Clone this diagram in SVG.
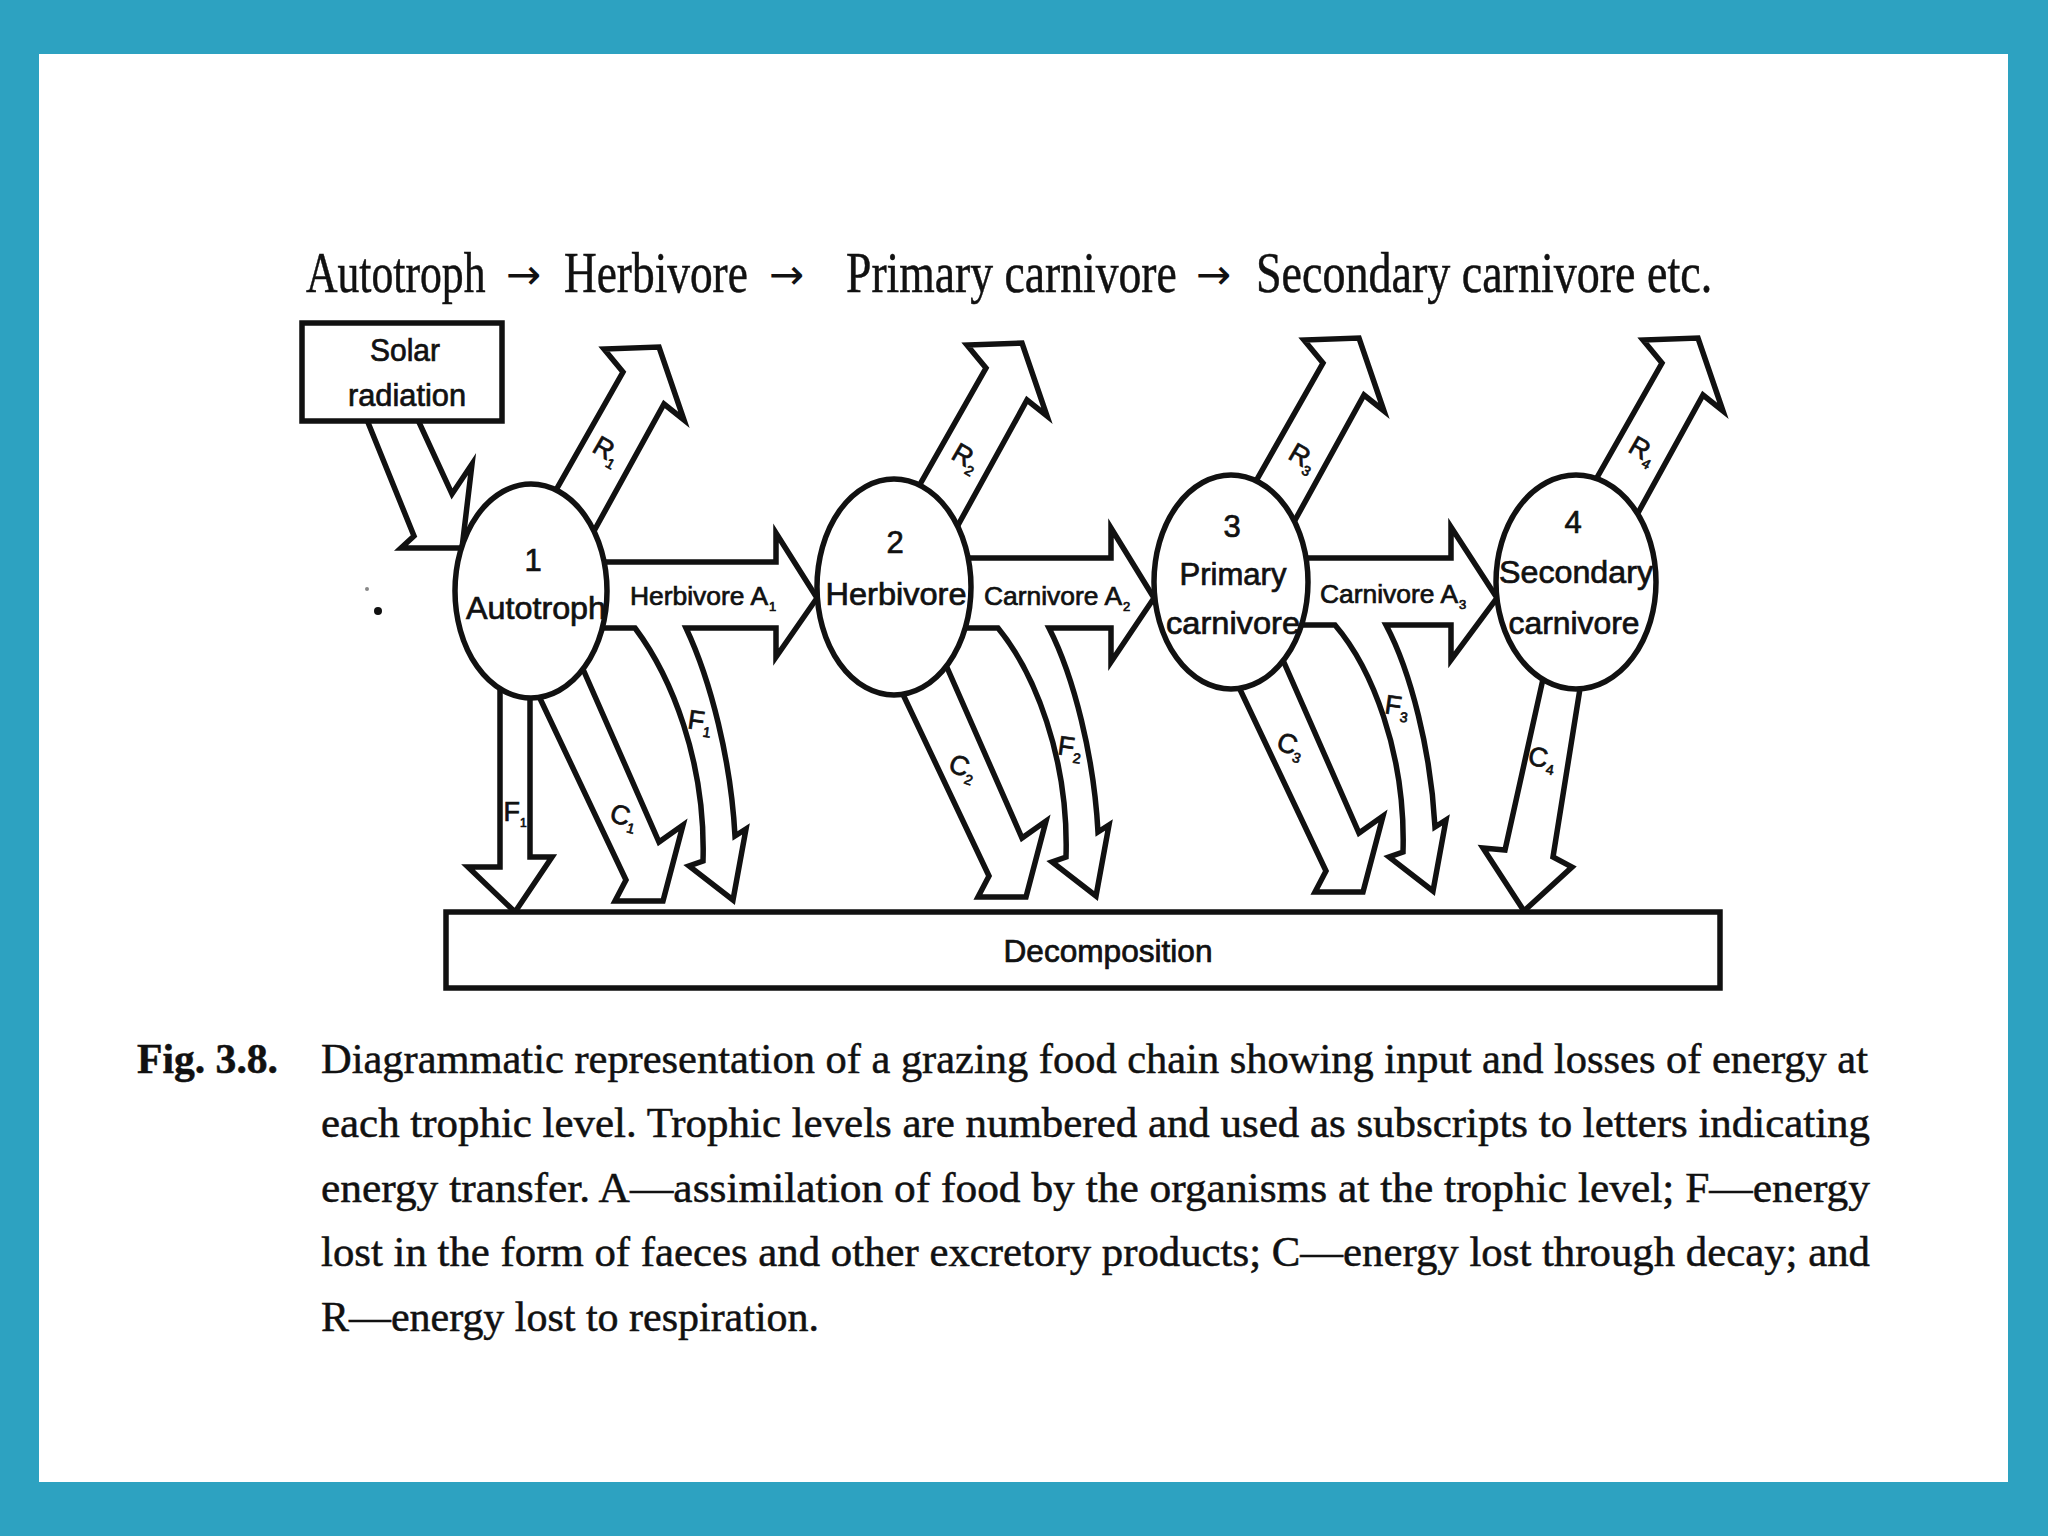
<svg xmlns="http://www.w3.org/2000/svg" width="2048" height="1536" viewBox="0 0 2048 1536">
<style>
.ln{fill:#fff;stroke:#111;stroke-width:5.5;stroke-linejoin:miter;stroke-miterlimit:5}
.nd{fill:#fff;stroke:#111;stroke-width:5.5}
.sans{font-family:"Liberation Sans",Arial,Helvetica,sans-serif;fill:#111;stroke:#111;stroke-width:0.7}
.serif{font-family:"Liberation Serif","Times New Roman",serif;fill:#111;stroke:#111;stroke-width:0.5}
.arw{font-family:"DejaVu Sans",sans-serif;fill:#111;font-size:42px}
.ttl{font-size:56px}
.cl{font-size:31px;text-anchor:middle}
.al{font-size:26px}
.lab{font-size:27px;text-anchor:middle}
.cap{font-size:42px}
</style>
<rect width="2048" height="1536" fill="#2da2c1"/>
<rect x="39" y="54" width="1969" height="1428" fill="#fff"/>

<g id="title">
<text class="serif ttl" transform="translate(306,292) scale(0.78,1)">Autotroph</text>
<text class="arw" x="506" y="289">→</text>
<text class="serif ttl" transform="translate(564,292) scale(0.81,1)">Herbivore</text>
<text class="arw" x="769" y="289">→</text>
<text class="serif ttl" transform="translate(846,292) scale(0.815,1)">Primary carnivore</text>
<text class="arw" x="1196" y="289">→</text>
<text class="serif ttl" transform="translate(1256,292) scale(0.822,1)">Secondary carnivore etc.</text>
</g>

<g id="connectors">
<polygon class="ln" points="367,420 414,536 401,548 462,548 472,464 452,494 418,420"/>
<polygon class="ln" points="539,520 623,372 604,349 659,347 684,420 664,404 578,560"/>
<polygon class="ln" points="902,516 986,368 967,345 1022,343 1047,416 1027,400 941,556"/>
<polygon class="ln" points="1239,511 1323,363 1304,340 1359,338 1384,411 1364,395 1278,551"/>
<polygon class="ln" points="1578,511 1662,363 1643,340 1698,338 1723,411 1703,395 1617,551"/>
<path class="ln" d="M571,562 L776,562 L776,533 L817,598 L776,657 L776,628 L686,628 C711,681 731,761 735,836 L746,829 L733,900 L689,866 L703,861 C706,761 671,676 635,628 L571,628 Z"/>
<path class="ln" d="M934,558 L1111,558 L1111,528 L1154,598 L1111,662 L1111,628 L1049,628 C1074,677 1094,757 1098,832 L1109,825 L1096,896 L1052,862 L1066,857 C1069,757 1034,672 998,628 L934,628 Z"/>
<path class="ln" d="M1271,558 L1451,558 L1451,527 L1497,598 L1451,660 L1451,625 L1386,625 C1411,672 1431,752 1435,827 L1446,820 L1433,891 L1389,857 L1403,852 C1406,752 1371,667 1335,625 L1271,625 Z"/>
<polygon class="ln" points="500,660 500,867 468,867 515,912 552,857 530,857 530,660"/>
<polygon class="ln" points="527,671 626,880 615,901 663,901 683,825 659,842 575,651"/>
<polygon class="ln" points="890,667 989,876 978,897 1026,897 1046,821 1022,838 938,647"/>
<polygon class="ln" points="1227,662 1326,871 1315,892 1363,892 1383,816 1359,833 1275,642"/>
<polygon class="ln" points="1545,670 1505,850 1483,848 1524,911 1572,867 1553,857 1583,670"/>

<text class="sans al" x="630" y="605" textLength="138" lengthAdjust="spacingAndGlyphs">Herbivore A</text>
<text class="sans" x="769" y="611" font-size="13">1</text>
<text class="sans al" x="984" y="605" textLength="138" lengthAdjust="spacingAndGlyphs">Carnivore A</text>
<text class="sans" x="1123" y="611" font-size="13">2</text>
<text class="sans al" x="1320" y="603" textLength="138" lengthAdjust="spacingAndGlyphs">Carnivore A</text>
<text class="sans" x="1459" y="609" font-size="13">3</text>

<text class="sans lab" transform="translate(607,450) rotate(30)" y="9">R<tspan font-size="14" dy="6">1</tspan></text>
<text class="sans lab" transform="translate(966,457) rotate(30)" y="9">R<tspan font-size="14" dy="6">2</tspan></text>
<text class="sans lab" transform="translate(1303,457) rotate(30)" y="9">R<tspan font-size="14" dy="6">3</tspan></text>
<text class="sans lab" transform="translate(1643,450) rotate(30)" y="9">R<tspan font-size="14" dy="6">4</tspan></text>

<text class="sans lab" transform="translate(624,816) rotate(15)" y="9">C<tspan font-size="14" dy="6">1</tspan></text>
<text class="sans lab" transform="translate(963,767) rotate(20)" y="9">C<tspan font-size="14" dy="6">2</tspan></text>
<text class="sans lab" transform="translate(1291,745) rotate(20)" y="9">C<tspan font-size="14" dy="6">3</tspan></text>
<text class="sans lab" transform="translate(1542,758) rotate(10)" y="9">C<tspan font-size="14" dy="6">4</tspan></text>

<text class="sans lab" transform="translate(515,812)" y="9" font-size="23">F<tspan font-size="12" dy="6">1</tspan></text>
<text class="sans lab" transform="translate(700,721) rotate(8)" y="9">F<tspan font-size="14" dy="6">1</tspan></text>
<text class="sans lab" transform="translate(1070,747) rotate(8)" y="9">F<tspan font-size="14" dy="6">2</tspan></text>
<text class="sans lab" transform="translate(1397,706) rotate(8)" y="9">F<tspan font-size="14" dy="6">3</tspan></text>
</g>

<g id="solar">
<rect class="nd" x="302" y="323" width="200" height="98" stroke-width="6"/>
<text class="sans" x="405" y="361" font-size="31" text-anchor="middle" textLength="70" lengthAdjust="spacingAndGlyphs">Solar</text>
<text class="sans" x="407" y="406" font-size="31" text-anchor="middle" textLength="118" lengthAdjust="spacingAndGlyphs">radiation</text>
</g>

<g id="node1">
<ellipse class="nd" cx="531" cy="591" rx="76" ry="107"/>
<text class="sans cl" x="533" y="571">1</text>
<text class="sans cl" x="536" y="619" textLength="140" lengthAdjust="spacingAndGlyphs">Autotroph</text>
</g>
<g id="node2">
<ellipse class="nd" cx="894" cy="587" rx="77" ry="108"/>
<text class="sans cl" x="895" y="553">2</text>
<text class="sans cl" x="896" y="605" textLength="141" lengthAdjust="spacingAndGlyphs">Herbivore</text>
</g>
<g id="node3">
<ellipse class="nd" cx="1231" cy="582" rx="77" ry="107"/>
<text class="sans cl" x="1232" y="537">3</text>
<text class="sans cl" x="1233" y="585" textLength="107" lengthAdjust="spacingAndGlyphs">Primary</text>
<text class="sans cl" x="1233" y="634" textLength="134" lengthAdjust="spacingAndGlyphs">carnivore</text>
</g>
<g id="node4">
<ellipse class="nd" cx="1576" cy="582" rx="80" ry="107"/>
<text class="sans cl" x="1573" y="533">4</text>
<text class="sans cl" x="1576" y="583" textLength="154" lengthAdjust="spacingAndGlyphs">Secondary</text>
<text class="sans cl" x="1574" y="634" textLength="131" lengthAdjust="spacingAndGlyphs">carnivore</text>
</g>

<g id="decomposition">
<rect class="nd" x="446" y="912" width="1274" height="76" stroke-width="6"/>
<text class="sans" x="1108" y="962" font-size="31" text-anchor="middle" textLength="209" lengthAdjust="spacingAndGlyphs">Decomposition</text>
</g>

<g id="marks">
<circle cx="378" cy="611" r="4" fill="#111"/>
<circle cx="367" cy="589" r="2" fill="#888"/>
</g>

<g id="caption">
<text class="serif cap" x="137" y="1073" font-weight="bold" textLength="141" lengthAdjust="spacingAndGlyphs">Fig. 3.8.</text>
<text class="serif cap" x="321" y="1073" textLength="1547" lengthAdjust="spacingAndGlyphs">Diagrammatic representation of a grazing food chain showing input and losses of energy at</text>
<text class="serif cap" x="321" y="1137" textLength="1549" lengthAdjust="spacingAndGlyphs">each trophic level. Trophic levels are numbered and used as subscripts to letters indicating</text>
<text class="serif cap" x="321" y="1202" textLength="1549" lengthAdjust="spacingAndGlyphs">energy transfer. A—assimilation of food by the organisms at the trophic level; F—energy</text>
<text class="serif cap" x="321" y="1266" textLength="1549" lengthAdjust="spacingAndGlyphs">lost in the form of faeces and other excretory products; C—energy lost through decay; and</text>
<text class="serif cap" x="321" y="1331" textLength="498" lengthAdjust="spacingAndGlyphs">R—energy lost to respiration.</text>
</g>
</svg>
